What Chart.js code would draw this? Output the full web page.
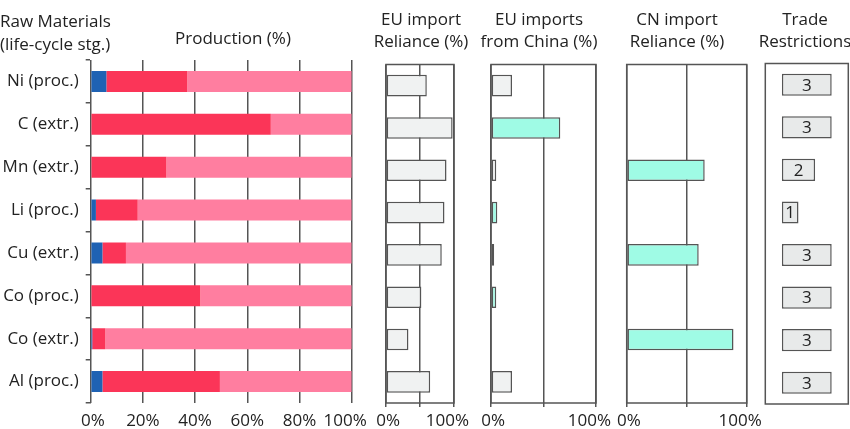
<!DOCTYPE html>
<html>
<head>
<meta charset="utf-8">
<script src="https://cdn.jsdelivr.net/npm/chart.js@4.4.0/dist/chart.umd.min.js"></script>
<style>
  body { margin: 0; background: #fff; }
  #wrap { position: relative; width: 850px; height: 429px; overflow: hidden; font-family: "Open Sans", sans-serif; color: #222; }
  #wrap canvas { position: absolute; left: 0; top: 0; }
  .head { position: absolute; font-size: 17px; line-height: 22px; text-align: center; white-space: nowrap; }
</style>
</head>
<body>
<div id="wrap">
  <canvas id="prod" width="850" height="429"></canvas>
  <canvas id="euRel" width="850" height="429"></canvas>
  <canvas id="euCn" width="850" height="429"></canvas>
  <canvas id="cnRel" width="850" height="429"></canvas>
  <canvas id="trade" width="850" height="429"></canvas>
  <div class="head" style="left:0;top:9px;text-align:left;line-height:23px">Raw Materials<br>(life-cycle stg.)</div>
  <div class="head" style="left:173px;top:27px;width:120px">Production (%)</div>
  <div class="head" style="left:361px;top:8px;width:120px">EU import<br>Reliance (%)</div>
  <div class="head" style="left:479px;top:8px;width:120px">EU imports<br>from China (%)</div>
  <div class="head" style="left:617px;top:8px;width:120px">CN import<br>Reliance (%)</div>
  <div class="head" style="left:745px;top:8px;width:120px">Trade<br>Restrictions</div>
</div>
<script>
// rows (raw material + life-cycle stage)
const materials = ['Ni (proc.)', 'C (extr.)', 'Mn (extr.)', 'Li (proc.)', 'Cu (extr.)', 'Co (proc.)', 'Co (extr.)', 'Al (proc.)'];

// production shares (%)
const prodEU = [6, 0, 0, 2, 4.5, 0, 0.6, 4.5];
const prodChina = [31, 69, 29, 16, 9, 42, 5, 45];
const prodRest = [63, 31, 71, 82, 86.5, 58, 94.4, 50.5];

// import indicators (%)
const euImportReliance = [60, 98, 89, 86, 82, 52, 33, 65];
const euImportsFromChina = [20, 66, 5, 6, 3, 5, 1, 20];
const cnImportReliance = [0, 0, 65, 0, 60, 0, 89, 0];
const chinaTopRows = ['C (extr.)', 'Li (proc.)', 'Co (proc.)'];

// trade restriction level
const tradeRestrictions = [3, 3, 2, 1, 3, 3, 3, 3];

// tick values
const prodTicks = [0, 20, 40, 60, 80, 100];
const pctTicks = [0, 50, 100];

Chart.defaults.font.family = '"Open Sans", sans-serif';
Chart.defaults.font.size = 17;
Chart.defaults.color = '#222';
Chart.defaults.animation = false;
Chart.defaults.plugins.legend.display = false;
Chart.defaults.plugins.tooltip.enabled = false;

const LINE = '#555';
const CYAN = '#9ffbe5';
const LIGHT = '#f0f2f2';

// end labels sit a little inside the axis ends, like the original
function pctLabel(v) {
  if (v === 0) return ' 0%';
  if (v === 100) return '100%   ';
  return v + '%';
}

// box drawn round the plot area of the small panels
const framePlugin = {
  id: 'frame',
  beforeDatasetsDraw(chart) {
    const { ctx, chartArea: a } = chart;
    ctx.save();
    ctx.strokeStyle = LINE;
    ctx.lineWidth = 1.5;
    ctx.strokeRect(a.left, a.top, a.right - a.left, a.bottom - a.top);
    ctx.restore();
  }
};

// numbers inside the trade restriction boxes
const valueLabels = {
  id: 'valueLabels',
  afterDatasetsDraw(chart) {
    const ctx = chart.ctx;
    const ds = chart.data.datasets[0];
    ctx.save();
    ctx.font = '17px "Open Sans", sans-serif';
    ctx.fillStyle = '#222';
    ctx.textAlign = 'center';
    ctx.textBaseline = 'middle';
    chart.getDatasetMeta(0).data.forEach((bar, i) => {
      ctx.fillText(String(ds.data[i]), (bar.x + bar.base) / 2, bar.y + 1);
    });
    ctx.restore();
  }
};

// production (stacked)
new Chart(document.getElementById('prod'), {
  type: 'bar',
  data: {
    labels: materials,
    datasets: [
      { label: 'EU', data: prodEU, backgroundColor: '#1f62b3' },
      { label: 'China', data: prodChina, backgroundColor: '#fb3558' },
      { label: 'Rest of world', data: prodRest, backgroundColor: '#ff7ea0' }
    ]
  },
  options: {
    responsive: false,
    indexAxis: 'y',
    datasets: { bar: { barPercentage: 0.98, categoryPercentage: 0.5 } },
    layout: { padding: { left: 0, top: 60, right: 498.3, bottom: 0 } },
    scales: {
      y: {
        stacked: true,
        grid: { drawOnChartArea: false, tickLength: 5, color: LINE, lineWidth: 1.5 },
        border: { display: true, color: LINE, width: 1 },
        ticks: { padding: 7 },
        afterFit: s => { s.width = 90.7; }
      },
      x: {
        stacked: true,
        min: 0,
        max: 100,
        afterBuildTicks: s => { s.ticks = prodTicks.map(v => ({ value: v })); },
        ticks: { padding: 8, maxRotation: 0, minRotation: 0, autoSkip: false, callback: pctLabel },
        grid: { color: LINE, lineWidth: 1.5, drawTicks: false },
        border: { display: false },
        afterFit: s => { s.height = 26; }
      }
    }
  }
});

function pctPanel(id, values, left, right, colorFn) {
  new Chart(document.getElementById(id), {
    type: 'bar',
    data: {
      labels: materials,
      datasets: [{
        data: values,
        backgroundColor: colorFn,
        borderColor: LINE,
        borderWidth: 1.5,
        borderSkipped: false,
        barPercentage: 1,
        categoryPercentage: 0.51
      }]
    },
    options: {
      responsive: false,
      indexAxis: 'y',
      layout: { padding: { left: left, top: 64.5, right: 850 - right, bottom: 0 } },
      scales: {
        y: { display: false },
        x: {
          min: 0,
          max: 100,
          afterBuildTicks: s => { s.ticks = pctTicks.map(v => ({ value: v })); },
          ticks: { padding: 4, maxRotation: 0, minRotation: 0, autoSkip: false,
            callback: v => (v === 50 ? '' : pctLabel(v)) },
          grid: { color: LINE, lineWidth: 1.5, tickLength: 4 },
          border: { display: false },
          afterFit: s => { s.height = 26; }
        }
      }
    },
    plugins: [framePlugin]
  });
}

pctPanel('euRel', euImportReliance, 386, 454, () => LIGHT);
pctPanel('euCn', euImportsFromChina, 491, 596,
  c => (chinaTopRows.includes(materials[c.dataIndex]) ? CYAN : LIGHT));
pctPanel('cnRel', cnImportReliance, 626.7, 746.7, () => CYAN);

// trade restrictions
new Chart(document.getElementById('trade'), {
  type: 'bar',
  data: {
    labels: materials,
    datasets: [{
      data: tradeRestrictions,
      backgroundColor: '#e8eaea',
      borderColor: LINE,
      borderWidth: 1.5,
      borderSkipped: false,
      barPercentage: 1,
      categoryPercentage: 0.52
    }]
  },
  options: {
    responsive: false,
    indexAxis: 'y',
    layout: { padding: { left: 765.3, top: 63.5, right: 1.7, bottom: 25 } },
    scales: {
      y: { display: false },
      x: { display: false, min: -1, max: 4 }
    }
  },
  plugins: [framePlugin, valueLabels]
});
</script>
</body>
</html>
